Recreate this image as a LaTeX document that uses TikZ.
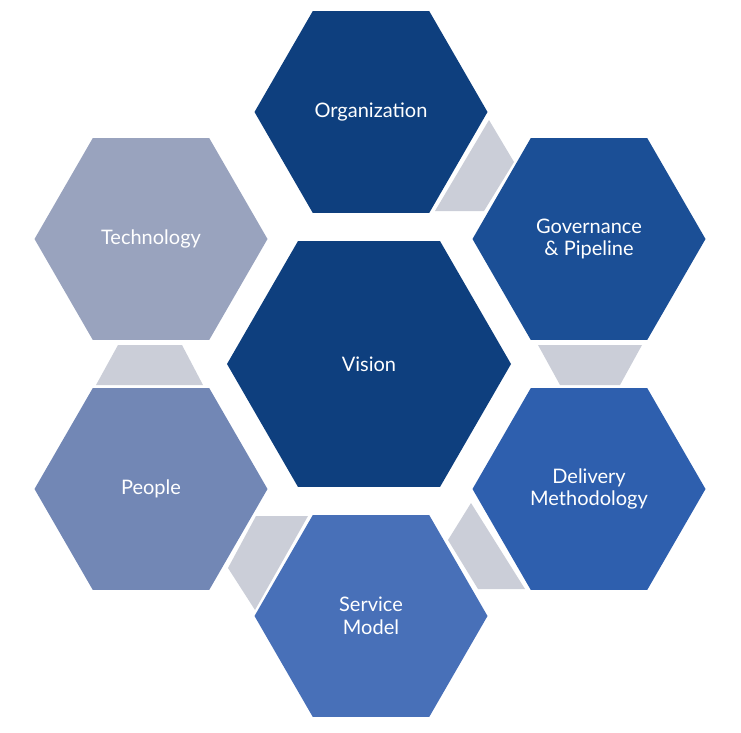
\documentclass[tikz,border=0pt]{standalone}
\usepackage{fontspec}
\setmainfont{Lato}
\definecolor{cOrg}{HTML}{0E3F7E}
\definecolor{cGov}{HTML}{1B4F96}
\definecolor{cDel}{HTML}{2E5FAE}
\definecolor{cSer}{HTML}{4870B8}
\definecolor{cPeo}{HTML}{7287B5}
\definecolor{cTec}{HTML}{99A3BE}
\definecolor{cCon}{HTML}{CBCED8}
\tikzset{lbl/.style={text=white,align=center,font=\fontsize{15}{17}\selectfont,inner sep=0pt},
conn/.style={fill=cCon}}
\newcommand{\hexa}[6]{%
 \fill[#4] (#1+#3,#2) -- (#1+#3/2,#2+0.866*#3) -- (#1-#3/2,#2+0.866*#3) -- (#1-#3,#2) -- (#1-#3/2,#2-0.866*#3) -- (#1+#3/2,#2-0.866*#3) -- cycle;
 \node[lbl] (#5) at (#1,#2) {#6};}
\begin{document}
\begin{tikzpicture}[x=0.75pt,y=-0.75pt]
\useasboundingbox (0,0) rectangle (741,732);
\hexa{371}{112}{116.5}{cOrg}{org}{Organization}
\hexa{589}{239}{116.5}{cGov}{gov}{Governance\\\& Pipeline}
\hexa{589}{489}{116.5}{cDel}{del}{Delivery\\Methodology}
\hexa{371}{616}{116.5}{cSer}{ser}{Service\\Model}
\hexa{151}{489}{116.5}{cPeo}{peo}{People}
\hexa{151}{239}{116.5}{cTec}{tec}{Technology}
\hexa{369}{364}{142}{cOrg}{vis}{Vision}
\fill[conn] (489,120) -- (514,162) -- (484,211) -- (435,211) -- cycle;
\fill[conn] (538,345) -- (642,345) -- (620,385) -- (560,385) -- cycle;
\fill[conn] (471,503) -- (448,540) -- (478,589) -- (525,589) -- cycle;
\fill[conn] (256,516) -- (308,516) -- (255,610) -- (228,568) -- cycle;
\fill[conn] (118,345) -- (182,345) -- (203,385) -- (96,385) -- cycle;
\end{tikzpicture}
\end{document}
